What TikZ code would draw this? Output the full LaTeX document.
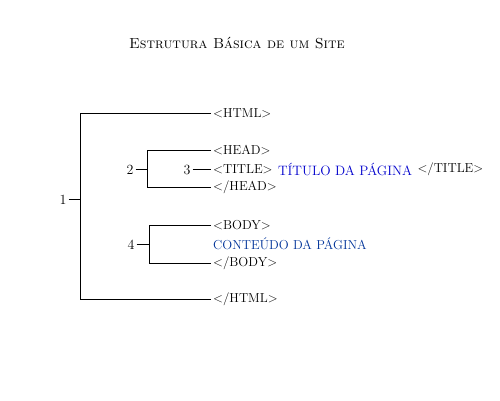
\documentclass[tikz,border=0pt]{standalone}
\usepackage{fontspec}
\usetikzlibrary{positioning}
\definecolor{titleblue}{RGB}{0,0,204}
\definecolor{textblue}{RGB}{0,51,153}
\tikzset{
  tag/.style={anchor=west,inner sep=2pt,font=\fontsize{13}{15}\selectfont},
  num/.style={inner sep=2pt,font=\fontsize{14}{16}\selectfont},
  brace/.style={line width=1pt}
}
\begin{document}
\begin{tikzpicture}[x=1pt,y=-1pt]
\useasboundingbox (0,0) rectangle (500,400);
\node[font=\fontsize{14.5}{16}\selectfont] (head) at (237,43) {\textsc{Estrutura Básica de um Site}};
   \foreach \y/\t/\n in
        {113.5/<HTML>/html,150.5/<HEAD>/hd,169.5/<TITLE>/ttl,187.5/{</HEAD>}/hdend,225.5/<BODY>/bd,263.5/{</BODY>}/bdend,299.5/{</HTML>}/htmlend}
           \node[tag](\n) at (211,\y) {\t};
\node[tag,text=titleblue,font=\fontsize{13.6}{15}\selectfont,right=1pt of ttl.east,anchor=west] (ttltext) {TÍTULO DA PÁGINA};
\node[tag,right=1pt of ttltext.east,anchor=west] (ttlend) {</TITLE>};
\node[tag,text=textblue] (content) at (211,244) {CONTEÚDO DA PÁGINA};
   \foreach \n/\x/\y in {1/63/199.5,2/130/169.5,3/187/169.5,4/131/244.5}
           \node[num](N\n) at (\x,\y) {\n};
\coordinate (v1) at (80.5,199.5);
\coordinate (v2) at (147.5,169.5);
\coordinate (v4) at (149.5,244.5);
\draw[brace] (N1) -- (v1);
\draw[brace] (html.west) -| (v1) |- (htmlend.west);
\draw[brace] (N2) -- (v2);
\draw[brace] (hd.west) -| (v2) |- (hdend.west);
\draw[brace] (N3) -- (ttl.west);
\draw[brace] (N4) -- (v4);
\draw[brace] (bd.west) -| (v4) |- (bdend.west);
\end{tikzpicture}
\end{document}
